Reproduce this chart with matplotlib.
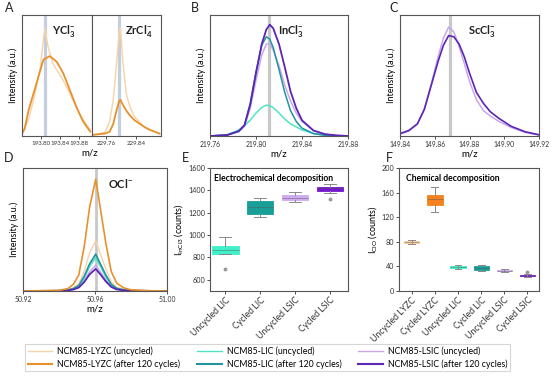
import matplotlib
matplotlib.use("Agg")
import matplotlib.pyplot as plt
from matplotlib.lines import Line2D

plt.rcParams['font.family'] = ['Lato', 'DejaVu Sans']
plt.rcParams['mathtext.fontset'] = 'custom'
plt.rcParams['mathtext.rm'] = 'Lato'
plt.rcParams['mathtext.it'] = 'Lato:italic'
plt.rcParams['mathtext.bf'] = 'Lato:bold'

# ---------------- colours ----------------
C_LYZC_U = '#f6d3a8'
C_LYZC_C = '#e8912c'
C_LIC_U = '#4fe3c6'
C_LIC_C = '#2393a0'
C_LSIC_U = '#c9a8ea'
C_LSIC_C = '#5b25b5'

# ---------------- panel A : YCl3- ----------------
ycl3_x_u = [193.760, 193.774, 193.7863, 193.7979, 193.8055, 193.8078, 193.8147, 193.8245,
            193.8465, 193.864, 193.8825, 193.9033]
ycl3_u = [0.01, 0.14, 0.33, 0.55, 0.82, 0.89, 0.74, 0.60, 0.46, 0.32, 0.17, 0.05]
ycl3_x_c = [193.760, 193.7655, 193.774, 193.7863, 193.7944, 193.8049, 193.8183, 193.8326,
            193.8465, 193.8604, 193.8743, 193.8882, 193.9033]
ycl3_c = [0.02, 0.06, 0.215, 0.38, 0.49, 0.63, 0.66, 0.615, 0.52, 0.38, 0.24, 0.12, 0.036]

# ---------------- panel A : ZrCl4- ----------------
zrcl4_x = [229.726, 229.7575, 229.770, 229.7797, 229.789, 229.7955, 229.7987, 229.805, 229.8144,
           229.824, 229.8365, 229.8507, 229.865, 229.878, 229.903]
zrcl4_u = [0.01, 0.03, 0.12, 0.30, 0.62, 0.86, 0.90, 0.62, 0.35, 0.24, 0.16, 0.11, 0.07, 0.05, 0.02]
zrcl4_c = [0.01, 0.02, 0.035, 0.10, 0.22, 0.29, 0.30, 0.26, 0.21, 0.17, 0.13, 0.10, 0.07, 0.05, 0.02]

# ---------------- panel B : InCl3- ----------------
incl3_x = [219.760, 219.775, 219.785, 219.790, 219.795, 219.800, 219.805, 219.809, 219.812,
           219.815, 219.820, 219.825, 219.830, 219.835, 219.840, 219.850, 219.860, 219.870, 219.880]
incl3_lic_u = [0, 0.01, 0.05, 0.085, 0.13, 0.19, 0.235, 0.255, 0.25, 0.235, 0.19, 0.14, 0.10,
               0.075, 0.05, 0.02, 0.006, 0.002, 0]
incl3_lsic_u = [0, 0.008, 0.035, 0.08, 0.23, 0.46, 0.67, 0.76, 0.76, 0.71, 0.58, 0.42, 0.29,
                0.19, 0.12, 0.045, 0.015, 0.005, 0]
incl3_lic_c = [0, 0.008, 0.04, 0.09, 0.27, 0.53, 0.75, 0.82, 0.80, 0.73, 0.55, 0.36, 0.21,
               0.12, 0.065, 0.02, 0.006, 0.002, 0]
incl3_lsic_c = [0, 0.008, 0.04, 0.09, 0.26, 0.52, 0.76, 0.88, 0.92, 0.89, 0.76, 0.57, 0.37,
                0.23, 0.13, 0.045, 0.015, 0.005, 0]

# ---------------- panel C : ScCl3- ----------------
sccl3_x = [149.840, 149.845, 149.850, 149.854, 149.858, 149.862, 149.865, 149.868, 149.871,
           149.874, 149.877, 149.880, 149.884, 149.888, 149.892, 149.897, 149.904, 149.912, 149.920]
sccl3_u = [0.015, 0.04, 0.10, 0.22, 0.43, 0.66, 0.81, 0.90, 0.86, 0.74, 0.60, 0.45, 0.30,
           0.21, 0.165, 0.12, 0.07, 0.03, 0.008]
sccl3_c = [0.02, 0.045, 0.10, 0.22, 0.42, 0.62, 0.75, 0.83, 0.82, 0.76, 0.655, 0.52, 0.36,
           0.27, 0.20, 0.145, 0.08, 0.035, 0.01]

# ---------------- panel D : OCl- ----------------
ocl_x = [50.920, 50.940, 50.945, 50.948, 50.951, 50.954, 50.957, 50.9604, 50.963, 50.966,
         50.969, 50.972, 50.976, 50.980, 50.990, 51.000]
ocl_lyzc_u = [0, 0.003, 0.01, 0.025, 0.06, 0.16, 0.31, 0.41, 0.30, 0.18, 0.075, 0.03, 0.012, 0.005, 0.001, 0]
ocl_lyzc_c = [0, 0.005, 0.02, 0.055, 0.13, 0.36, 0.68, 0.91, 0.67, 0.39, 0.16, 0.065, 0.025, 0.01, 0.002, 0]
ocl_lic_u = [0, 0.002, 0.007, 0.018, 0.04, 0.105, 0.20, 0.27, 0.20, 0.115, 0.05, 0.02, 0.008, 0.003, 0.001, 0]
ocl_lic_c = [0, 0.002, 0.008, 0.02, 0.045, 0.12, 0.22, 0.30, 0.22, 0.13, 0.055, 0.022, 0.009, 0.004, 0.001, 0]
ocl_lsic_u = [0, 0.002, 0.006, 0.014, 0.032, 0.085, 0.155, 0.21, 0.155, 0.09, 0.038, 0.015, 0.006, 0.003, 0.001, 0]
ocl_lsic_c = [0, 0.002, 0.005, 0.012, 0.028, 0.072, 0.135, 0.18, 0.135, 0.078, 0.033, 0.013, 0.005, 0.002, 0.001, 0]

# ---------------- panel E : electrochemical decomposition ----------------
e_labels = ['Uncycled LIC', 'Cycled LIC', 'Uncycled LSIC', 'Cycled LSIC']
e_whislo = [830, 1162, 1296, 1377]
e_q1 = [835, 1188, 1316, 1398]
e_med = [868, 1255, 1333, 1418]
e_q3 = [905, 1307, 1355, 1430]
e_whishi = [985, 1331, 1382, 1457]
e_fliers = [[697], [], [], [1320]]
e_colors = ['#3ff0c8', '#1a9e98', '#d0aaf0', '#7418d0']

# ---------------- panel F : chemical decomposition ----------------
f_labels = ['Uncycled LYZC', 'Cycled LYZC', 'Uncycled LIC', 'Cycled LIC', 'Uncycled LSIC', 'Cycled LSIC']
f_whislo = [77, 128, 36, 33, 31, 23]
f_q1 = [78, 140, 37, 34.5, 32, 24]
f_med = [80, 150, 39, 37.6, 33, 25]
f_q3 = [82, 156, 41, 41.4, 34, 26.5]
f_whishi = [83, 169, 42, 43, 35, 27]
f_fliers = [[], [], [], [], [], [31]]
f_colors = ['#fbcf9f', '#f5821f', '#3ff0c8', '#1a9e98', '#d0aaf0', '#7418d0']

W, H = 554, 381
fig = plt.figure(figsize=(W / 100, H / 100), dpi=100)


def rect(x0, x1, ytop, ybot):
    return [x0 / W, 1 - ybot / H, (x1 - x0) / W, (ybot - ytop) / H]


SPINE = '#555555'
TICKSIZE = 4.9


def style(ax, yticks=False):
    for s in ax.spines.values():
        s.set_color(SPINE)
        s.set_linewidth(0.8)
    ax.tick_params(axis='both', direction='out', length=2, width=0.6, labelsize=TICKSIZE,
                   pad=1.5, colors='#333333')
    if not yticks:
        ax.set_yticks([])


def peak_label(ax, x, y, txt):
    ax.text(x, y, txt, transform=ax.transAxes, fontsize=8, fontweight='bold',
            ha='left', va='top', color='#222222')


def letter(x, y, t):
    fig.text(x / W, 1 - y / H, t, fontsize=9, ha='left', va='center', color='#222222')


# ---- A ----
axA1 = fig.add_axes(rect(22, 92, 15, 136))
axA2 = fig.add_axes(rect(92, 161, 15, 136))
for ax in (axA1, axA2):
    style(ax)
    ax.set_ylim(0, 1)
axA1.axvline(193.808, color='#c5cedc', lw=2.3, zorder=0)
axA1.plot(ycl3_x_u, ycl3_u, color=C_LYZC_U, lw=1.0)
axA1.plot(ycl3_x_c, ycl3_c, color=C_LYZC_C, lw=1.3)
axA1.set_xlim(193.760, 193.907)
axA1.set_xticks([193.80, 193.84, 193.88])
axA1.set_xticklabels(['193.80', '193.84', '193.88'])
axA1.tick_params(axis='x', labelsize=4.4)
axA1.set_ylabel('Intensity (a.u.)', fontsize=6.5, labelpad=3)
peak_label(axA1, 0.43, 0.93, r'YCl$_{\mathbf{3}}^{\mathbf{-}}$')

axA2.axvline(229.7955, color='#c5cedc', lw=2.3, zorder=0)
axA2.plot(zrcl4_x, zrcl4_u, color=C_LYZC_U, lw=1.0)
axA2.plot(zrcl4_x, zrcl4_c, color=C_LYZC_C, lw=1.3)
axA2.set_xlim(229.723, 229.907)
axA2.set_xticks([229.76, 229.84])
axA2.set_xticklabels(['229.76', '229.84'])
axA2.tick_params(axis='x', labelsize=4.4)
peak_label(axA2, 0.48, 0.93, r'ZrCl$_{\mathbf{4}}^{\mathbf{-}}$')
fig.text(90 / W, 1 - 153 / H, 'm/z', fontsize=7, ha='center', va='center')

# ---- B ----
axB = fig.add_axes(rect(210, 348, 15, 136))
style(axB)
axB.axvline(219.8116, color='#c8c8c8', lw=2.3, zorder=0)
axB.plot(incl3_x, incl3_lic_u, color=C_LIC_U, lw=1.1)
axB.plot(incl3_x, incl3_lsic_u, color=C_LSIC_U, lw=1.1)
axB.plot(incl3_x, incl3_lic_c, color=C_LIC_C, lw=1.1)
axB.plot(incl3_x, incl3_lsic_c, color=C_LSIC_C, lw=1.3)
axB.set_xlim(219.76, 219.88)
axB.set_ylim(0, 1)
axB.set_xticks([219.76, 219.80, 219.84, 219.88])
axB.set_xticklabels(['219.76', '219.80', '219.84', '219.88'])
axB.set_ylabel('Intensity (a.u.)', fontsize=6.5, labelpad=3)
axB.set_xlabel('m/z', fontsize=7, labelpad=1.5)
peak_label(axB, 0.49, 0.93, r'InCl$_{\mathbf{3}}^{\mathbf{-}}$')

# ---- C ----
axC = fig.add_axes(rect(400, 539, 15, 136))
style(axC)
axC.axvline(149.8688, color='#c8c8c8', lw=2.3, zorder=0)
axC.plot(sccl3_x, sccl3_u, color=C_LSIC_U, lw=1.1)
axC.plot(sccl3_x, sccl3_c, color=C_LSIC_C, lw=1.2)
axC.set_xlim(149.84, 149.92)
axC.set_ylim(0, 1)
axC.set_xticks([149.84, 149.86, 149.88, 149.90, 149.92])
axC.set_xticklabels(['149.84', '149.86', '149.88', '149.90', '149.92'])
axC.set_ylabel('Intensity (a.u.)', fontsize=6.5, labelpad=3)
axC.set_xlabel('m/z', fontsize=7, labelpad=1.5)
peak_label(axC, 0.49, 0.93, r'ScCl$_{\mathbf{3}}^{\mathbf{-}}$')

# ---- D ----
axD = fig.add_axes(rect(23, 167, 168, 291))
style(axD)
axD.axvline(50.9604, color='#c8c8c8', lw=2.0, zorder=0)
axD.plot(ocl_x, ocl_lyzc_u, color=C_LYZC_U, lw=1.0)
axD.plot(ocl_x, ocl_lsic_u, color=C_LSIC_U, lw=1.1)
axD.plot(ocl_x, ocl_lic_u, color=C_LIC_U, lw=1.1)
axD.plot(ocl_x, ocl_lic_c, color=C_LIC_C, lw=1.2)
axD.plot(ocl_x, ocl_lsic_c, color=C_LSIC_C, lw=1.3)
axD.plot(ocl_x, ocl_lyzc_c, color=C_LYZC_C, lw=1.2)
axD.set_xlim(50.92, 51.00)
axD.set_ylim(0, 1)
axD.set_xticks([50.92, 50.96, 51.00])
axD.set_xticklabels(['50.92', '50.96', '51.00'])
axD.set_ylabel('Intensity (a.u.)', fontsize=6.5, labelpad=3)
axD.set_xlabel('m/z', fontsize=7, labelpad=1.5)
peak_label(axD, 0.59, 0.93, r'OCl$^{\mathbf{-}}$')


# ---- box plots ----
def draw_box(ax, labels, lo, q1, med, q3, hi, fl, colors, width):
    stats = []
    for i in range(len(labels)):
        stats.append(dict(label=labels[i], whislo=lo[i], q1=q1[i], med=med[i], q3=q3[i],
                          whishi=hi[i], fliers=fl[i]))
    pos = list(range(1, len(labels) + 1))
    bp = ax.bxp(stats, positions=pos, widths=width, patch_artist=True, showfliers=True,
                capwidths=width * 0.45,
                whiskerprops=dict(color='#8a8a8a', lw=0.7),
                capprops=dict(color='#8a8a8a', lw=0.7),
                flierprops=dict(marker='o', markersize=1.8, markerfacecolor='#999999',
                                markeredgecolor='#999999'))
    for patch, c in zip(bp['boxes'], colors):
        patch.set_facecolor(c)
        patch.set_edgecolor(c)
        patch.set_linewidth(0.6)
    for m in bp['medians']:
        m.set_color('#555555')
        m.set_linewidth(0.6)
        m.set_alpha(0.5)
    ax.set_xticks(pos)
    ax.set_xticklabels(labels, rotation=45, ha='right', rotation_mode='anchor', fontsize=6.3)
    ax.tick_params(axis='y', labelsize=5.2)


axE = fig.add_axes(rect(210, 348, 168, 291))
style(axE, yticks=True)
draw_box(axE, e_labels, e_whislo, e_q1, e_med, e_q3, e_whishi, e_fliers, e_colors, 0.76)
axE.set_xlim(0.56, 4.52)
axE.set_ylim(500, 1600)
axE.set_yticks([600, 800, 1000, 1200, 1400, 1600])
axE.set_ylabel(r'I$_{\mathrm{InCl3}}$ (counts)', fontsize=6.5, labelpad=2)
axE.text(0.03, 0.95, 'Electrochemical decomposition', transform=axE.transAxes,
         fontsize=6.2, fontweight='bold', ha='left', va='top')

axF = fig.add_axes(rect(399, 539, 168, 291))
style(axF, yticks=True)
draw_box(axF, f_labels, f_whislo, f_q1, f_med, f_q3, f_whishi, f_fliers, f_colors, 0.66)
axF.set_xlim(0.45, 6.5)
axF.set_ylim(0, 200)
axF.set_yticks([0, 40, 80, 120, 160, 200])
axF.set_ylabel(r'I$_{\mathrm{ClO}}$ (counts)', fontsize=6.5, labelpad=2)
axF.text(0.05, 0.95, 'Chemical decomposition', transform=axF.transAxes,
         fontsize=6.2, fontweight='bold', ha='left', va='top')

# ---- panel letters ----
letter(5, 8, 'A')
letter(191, 8, 'B')
letter(389, 8, 'C')
letter(4, 158, 'D')
letter(182, 158, 'E')
letter(386, 158, 'F')

# ---- legend ----
handles = [
    Line2D([], [], color=C_LYZC_U, lw=1.0),
    Line2D([], [], color=C_LYZC_C, lw=1.5),
    Line2D([], [], color=C_LIC_U, lw=1.0),
    Line2D([], [], color=C_LIC_C, lw=1.5),
    Line2D([], [], color=C_LSIC_U, lw=1.0),
    Line2D([], [], color=C_LSIC_C, lw=1.5),
]
names = ['NCM85-LYZC (uncycled)', 'NCM85-LYZC (after 120 cycles)',
         'NCM85-LIC (uncycled)', 'NCM85-LIC (after 120 cycles)',
         'NCM85-LSIC (uncycled)', 'NCM85-LSIC (after 120 cycles)']
leg = fig.legend(handles, names, ncol=3, loc='center',
                 bbox_to_anchor=(267.5 / W, 1 - 357.5 / H), fontsize=6.3,
                 frameon=True, fancybox=False, edgecolor='#cccccc',
                 handlelength=2.8, handletextpad=0.6, columnspacing=1.9,
                 labelspacing=0.35, borderpad=0.3)
leg.get_frame().set_linewidth(0.8)

fig.savefig('out.png', dpi=100)
